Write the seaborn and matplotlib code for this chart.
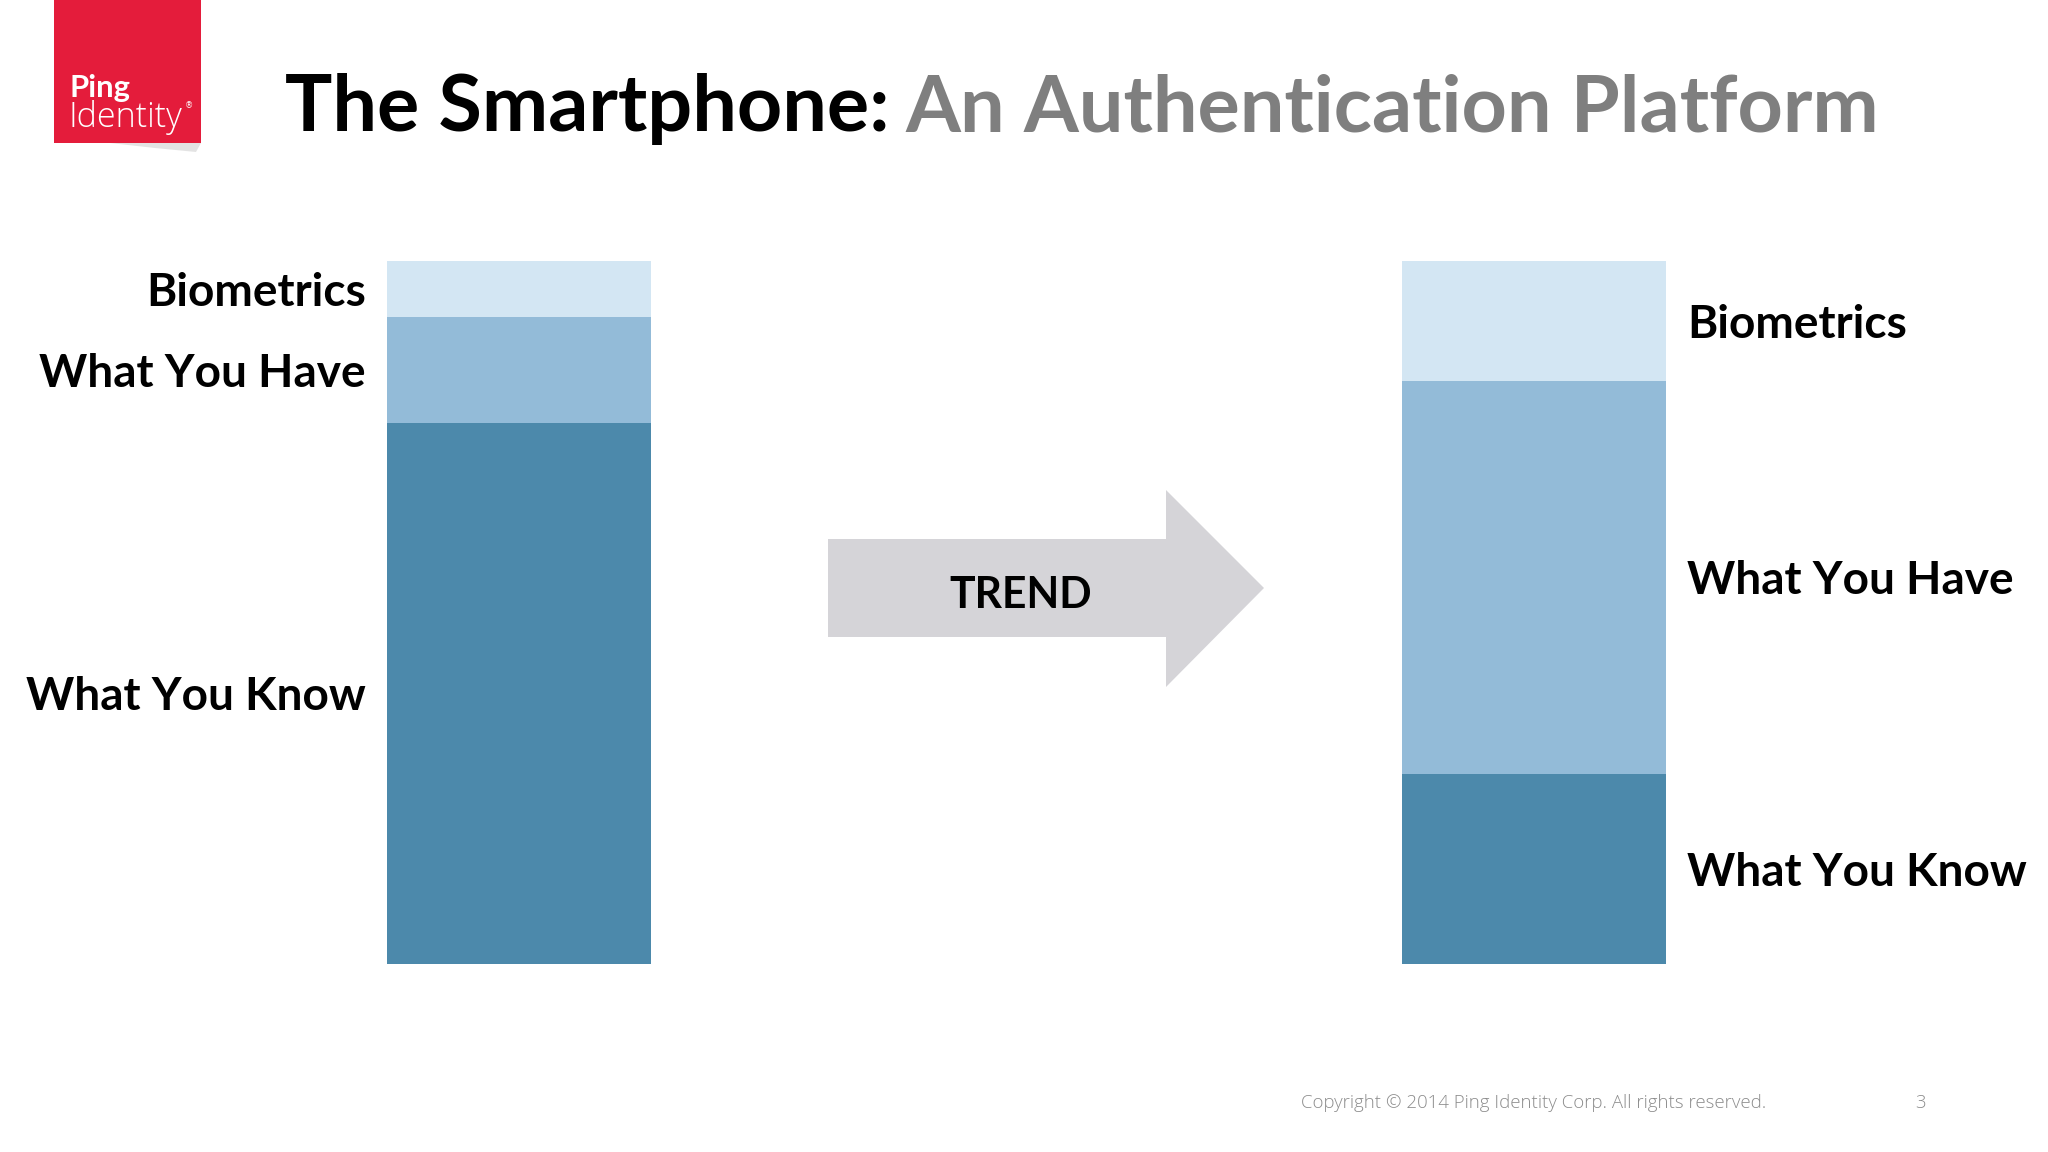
import matplotlib
matplotlib.use("Agg")
import matplotlib.pyplot as plt
import seaborn as sns
import pandas as pd
from matplotlib import font_manager
from matplotlib.patches import Rectangle, Polygon

# ---- data (percent share of each authentication factor) ----
stages = ["Today", "Trend"]
factors = ["What You Know", "What You Have", "Biometrics"]
know = [77, 27]
have = [15, 56]
bio = [8, 17]
factor_colors = ["#4C89AB", "#93BBD8", "#D3E6F3"]
title_black = "The Smartphone:"
title_gray = "An Authentication Platform"
arrow_label = "TREND"
footer = "Copyright \u00a9 2014 Ping Identity Corp. All rights reserved."
page_no = "3"

W, H, DPI = 2048, 1152, 100
sns.set_theme(style="white")
available = {f.name for f in font_manager.fontManager.ttflist}


def pick(*names):
    for n in names:
        if n in available:
            return n
    return "DejaVu Sans"


BOLD = pick("Lato", "Open Sans", "Noto Sans")
LIGHT = pick("Open Sans", "Lato", "Noto Sans")
plt.rcParams["font.family"] = [BOLD, "DejaVu Sans"]

fig = plt.figure(figsize=(W / DPI, H / DPI), dpi=DPI)
fig.patch.set_facecolor("white")
renderer = fig.canvas.get_renderer()


def fx(px):
    return px / W


def fy(py):
    return 1 - py / H


def fit(t, target):
    bb = t.get_window_extent(renderer)
    t.set_fontsize(t.get_fontsize() * target / bb.width)
    return t.get_fontsize()


# ---- stacked bars ----
bar_top, bar_bot = 261, 964
ax = fig.add_axes([0, fy(bar_bot), 1, (bar_bot - bar_top) / H])
c1, c2 = 519, 1534
unit = c2 - c1
bw = 264 / unit

df = pd.DataFrame({"stage": stages, "know": know, "have": have, "bio": bio})
df["c_know"] = df["know"]
df["c_have"] = df["know"] + df["have"]
df["c_bio"] = df["c_have"] + df["bio"]
for col, colr in [("c_bio", factor_colors[2]), ("c_have", factor_colors[1]), ("c_know", factor_colors[0])]:
    sns.barplot(data=df, x="stage", y=col, order=stages, color=colr, saturation=1,
                width=bw, linewidth=0, ax=ax, errorbar=None)
ax.set_xlim(-c1 / unit, (W - c1) / unit)
ax.set_ylim(0, 100)
ax.axis("off")

# segment labels
gap = 21 / unit
lab_texts = []
for i in range(len(stages)):
    lows = [0, know[i], know[i] + have[i]]
    vals = [know[i], have[i], bio[i]]
    for f, lo, v in zip(factors, lows, vals):
        if i == 0:
            x, ha = i - bw / 2 - gap, "right"
        else:
            x, ha = i + bw / 2 + gap, "left"
        t = ax.text(x, lo + v / 2, f, ha=ha, va="center_baseline", fontsize=30,
                    fontweight="bold", color="black", family=[BOLD, "DejaVu Sans"])
        lab_texts.append(t)
size = fit(lab_texts[0], 340)
for t in lab_texts:
    t.set_fontsize(size)

# ---- title ----
t1 = fig.text(fx(285), fy(131), title_black, ha="left", va="baseline", fontsize=60,
              fontweight="bold", color="black")
t2 = fig.text(fx(905), fy(131), title_gray, ha="left", va="baseline", fontsize=60,
              fontweight="bold", color="#7F7F7F")
s1 = fit(t1, 603)
s2 = fit(t2, 976)
s = (s1 + s2) / 2
t1.set_fontsize(s)
t2.set_fontsize(s)

# ---- logo ----
fig.patches.append(Polygon([(fx(110), fy(143)), (fx(201), fy(143)), (fx(196), fy(152)), (fx(155), fy(148))],
                           closed=True, transform=fig.transFigure, facecolor="#C8C8C8", edgecolor="none", alpha=0.5))
fig.patches.append(Rectangle((fx(54), fy(143)), 147 / W, 143 / H, transform=fig.transFigure,
                             facecolor="#E41C3B", edgecolor="none"))
p1 = fig.text(fx(69), fy(97), "Ping", ha="left", va="baseline", fontsize=20, fontweight="bold", color="white")
fit(p1, 61)
p2 = fig.text(fx(69), fy(127), "Identity", ha="left", va="baseline", fontsize=20, fontweight="light",
              color="white", family=[LIGHT, "DejaVu Sans"])
fit(p2, 114)
fig.text(fx(185), fy(108), "\u00ae", ha="left", va="baseline", fontsize=6, color="white",
         family=["DejaVu Sans"])

# ---- trend arrow ----
pts = [(828, 539), (1166, 539), (1166, 490), (1264, 588), (1166, 687), (1166, 637), (828, 637)]
fig.patches.append(Polygon([(fx(x), fy(y)) for x, y in pts], closed=True, transform=fig.transFigure,
                           facecolor="#D5D4D8", edgecolor="none"))
ta = fig.text(fx(1021), fy(592), arrow_label, ha="center", va="center_baseline", fontsize=30,
              fontweight="bold", color="black")
fit(ta, 143)

# ---- footer ----
ft = fig.text(fx(1301), fy(1108), footer, ha="left", va="baseline", fontsize=14, fontweight="light",
              color="#8C8C8C", family=[LIGHT, "DejaVu Sans"])
fs = fit(ft, 467)
fig.text(fx(1920), fy(1108), page_no, ha="center", va="baseline", fontsize=fs, fontweight="light",
         color="#8C8C8C", family=[LIGHT, "DejaVu Sans"])

fig.savefig("out.png", dpi=DPI, facecolor="white")
